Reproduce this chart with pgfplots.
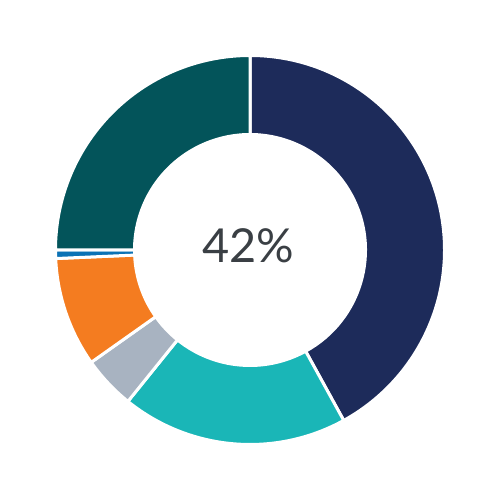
\documentclass[border=0pt]{standalone}
\usepackage{pgfplots}
\usepackage{pgfplotstable}
\pgfplotsset{compat=1.18}
\usepackage{fontspec}
\setmainfont{Lato}

\definecolor{cNavy}{HTML}{1D2B5A}
\definecolor{cTeal}{HTML}{1AB6B7}
\definecolor{cGray}{HTML}{A8B3C1}
\definecolor{cOrange}{HTML}{F47C20}
\definecolor{cBlue}{HTML}{0B72B5}
\definecolor{cDark}{HTML}{03545A}
\definecolor{cText}{HTML}{3A3F44}

% shares in percent, clockwise from 12 o'clock
\pgfplotstableread{
share idx
42.0 0
18.8 1
4.4  2
9.1  3
0.7  4
25.0 5
}\shares
\pgfplotstablecreatecol[create col/expr accum={\pgfmathaccuma + \thisrow{share}}{0}]{cum}\shares

\def\Rout{194.5bp}
\def\Rin{115.5bp}

\begin{document}
\begin{tikzpicture}
\begin{axis}[
    x=1bp, y=1bp,
    xmin=-250, xmax=250,
    ymin=-250, ymax=250,
    hide axis,
    clip=false,
]
\path (rel axis cs:0,0) rectangle (rel axis cs:1,1);
\addplot[
    scatter, only marks,
    mark=text, text mark={},
    visualization depends on={\thisrow{cum} \as \cumv},
    visualization depends on={\thisrow{share} \as \sharev},
    visualization depends on={\thisrow{idx} \as \idxv},
    scatter/@pre marker code/.code={
        \pgfmathsetmacro\angA{90-3.6*(\cumv-\sharev)}
        \pgfmathsetmacro\angB{90-3.6*\cumv}
        \pgfmathsetmacro\cname{{"cNavy","cTeal","cGray","cOrange","cBlue","cDark"}[int(\idxv)]}
        \path[fill=\cname, draw=white, line width=3bp, line join=miter]
            (\angA:\Rout) arc[start angle=\angA, end angle=\angB, radius=\Rout]
            -- (\angB:\Rin) arc[start angle=\angB, end angle=\angA, radius=\Rin] -- cycle;
    },
    scatter/@post marker code/.code={},
] table[x expr=0, y expr=0] {\shares};
\node[text=cText, font=\fontsize{47}{47}\selectfont, inner sep=0pt] at (axis cs:-1.5,4) {42\%};
\end{axis}
\end{tikzpicture}
\end{document}
